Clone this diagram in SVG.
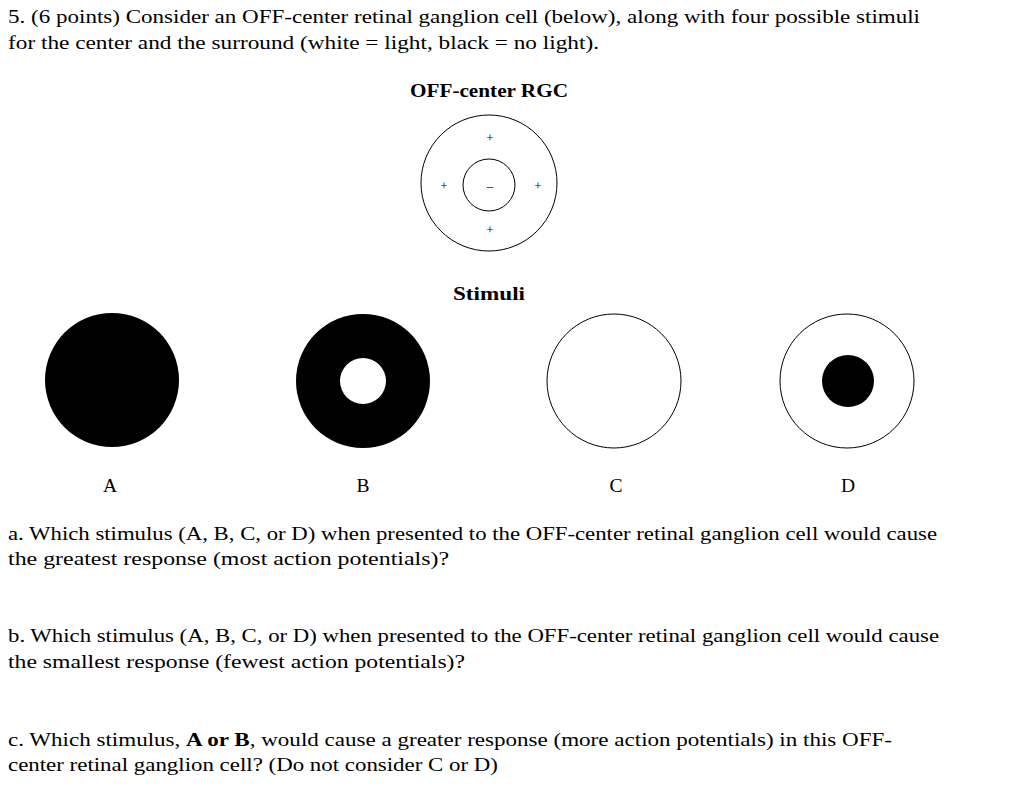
<svg xmlns="http://www.w3.org/2000/svg" width="1024" height="802" viewBox="0 0 1024 802">
<style>
text{font-family:"Liberation Serif",serif;font-size:19.5px;fill:#000}
.b{font-weight:bold}
.s{font-size:13px}
.o{fill:#fff;stroke:#000;stroke-width:1}
.k{fill:#000}
</style>
<rect width="1024" height="802" fill="#fff"/>
<g id="header">
<text x="8" y="23" textLength="912" lengthAdjust="spacingAndGlyphs">5. (6 points) Consider an OFF-center retinal ganglion cell (below), along with four possible stimuli</text>
<text x="8" y="49" textLength="591" lengthAdjust="spacingAndGlyphs">for the center and the surround (white = light, black = no light).</text>
</g>
<g id="rgc">
<text class="b" x="489" y="97" text-anchor="middle" textLength="158" lengthAdjust="spacingAndGlyphs">OFF-center RGC</text>
<circle class="o" cx="489" cy="183" r="68"/>
<circle class="o" cx="489" cy="185" r="26"/>
<text class="s" x="490" y="142" text-anchor="middle">+</text>
<text class="s" x="444" y="190" text-anchor="middle">+</text>
<text class="s" x="490" y="190" text-anchor="middle">–</text>
<text class="s" x="538" y="190" text-anchor="middle">+</text>
<text class="s" x="490" y="234" text-anchor="middle">+</text>
</g>
<g id="stimuli-title"><text class="b" x="489" y="300" text-anchor="middle" textLength="72" lengthAdjust="spacingAndGlyphs">Stimuli</text></g>
<g id="A"><circle class="k" cx="112" cy="380" r="67"/><text x="110" y="492" text-anchor="middle">A</text></g>
<g id="B"><circle class="k" cx="363" cy="381" r="67"/><circle fill="#fff" cx="363" cy="381" r="23"/><text x="363" y="492" text-anchor="middle">B</text></g>
<g id="C"><circle class="o" cx="614" cy="381" r="67"/><text x="616" y="492" text-anchor="middle">C</text></g>
<g id="D"><circle class="o" cx="847" cy="381" r="67"/><circle class="k" cx="848" cy="381" r="26"/><text x="848" y="492" text-anchor="middle">D</text></g>
<g id="connectors"/>
<g id="questions">
<text x="8" y="540" textLength="929" lengthAdjust="spacingAndGlyphs">a. Which stimulus (A, B, C, or D) when presented to the OFF-center retinal ganglion cell would cause</text>
<text x="8" y="565" textLength="441" lengthAdjust="spacingAndGlyphs">the greatest response (most action potentials)?</text>
<text x="8" y="642" textLength="931" lengthAdjust="spacingAndGlyphs">b. Which stimulus (A, B, C, or D) when presented to the OFF-center retinal ganglion cell would cause</text>
<text x="8" y="668" textLength="457" lengthAdjust="spacingAndGlyphs">the smallest response (fewest action potentials)?</text>
<text x="8" y="746" textLength="884" lengthAdjust="spacingAndGlyphs">c. Which stimulus, <tspan class="b">A or B</tspan>, would cause a greater response (more action potentials) in this OFF-</text>
<text x="8" y="771" textLength="490" lengthAdjust="spacingAndGlyphs">center retinal ganglion cell? (Do not consider C or D)</text>
</g>
</svg>
